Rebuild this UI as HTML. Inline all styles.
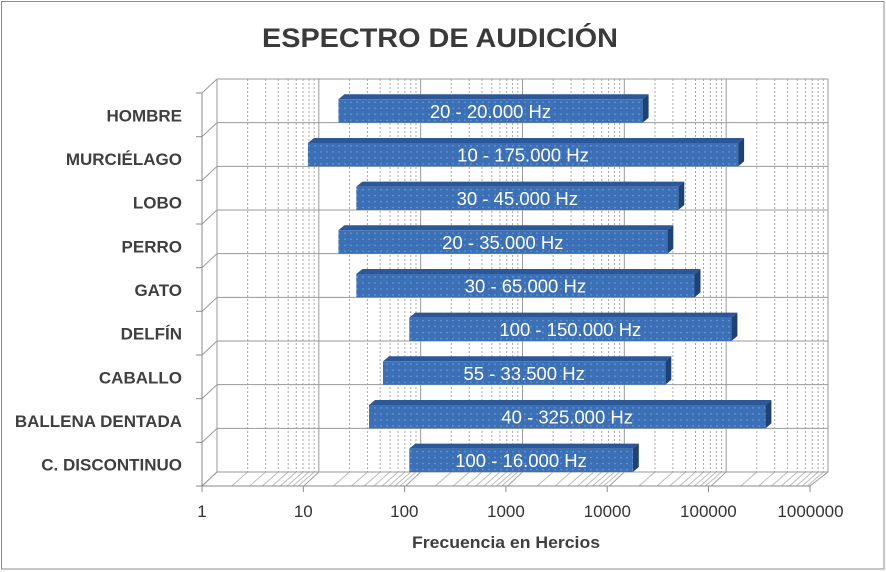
<!DOCTYPE html>
<html><head><meta charset="utf-8"><style>
html,body{margin:0;padding:0;background:#fff;}
svg{display:block;}
</style></head><body>
<svg width="886" height="572" viewBox="0 0 886 572" xmlns="http://www.w3.org/2000/svg">
<defs>
<pattern id="dots" width="6" height="6" patternUnits="userSpaceOnUse">
<rect width="6" height="6" fill="#3b70b6"/>
<circle cx="3" cy="3" r="0.7" fill="#7fa6d8"/>
</pattern>
<g id="dec">
<g stroke="#a8a8a8" stroke-width="1" stroke-dasharray="2,2" fill="none">
<line x1="30.65" y1="79" x2="30.65" y2="472"/>
<line x1="48.59" y1="79" x2="48.59" y2="472"/>
<line x1="61.31" y1="79" x2="61.31" y2="472"/>
<line x1="71.18" y1="79" x2="71.18" y2="472"/>
<line x1="79.24" y1="79" x2="79.24" y2="472"/>
<line x1="86.06" y1="79" x2="86.06" y2="472"/>
<line x1="91.96" y1="79" x2="91.96" y2="472"/>
<line x1="97.17" y1="79" x2="97.17" y2="472"/>
</g>
<g stroke="#bcbcbc" stroke-width="1" fill="none">
<line x1="30.65" y1="472" x2="14.65" y2="486"/>
<line x1="48.59" y1="472" x2="32.59" y2="486"/>
<line x1="61.31" y1="472" x2="45.31" y2="486"/>
<line x1="71.18" y1="472" x2="55.18" y2="486"/>
<line x1="79.24" y1="472" x2="63.24" y2="486"/>
<line x1="86.06" y1="472" x2="70.06" y2="486"/>
<line x1="91.96" y1="472" x2="75.96" y2="486"/>
<line x1="97.17" y1="472" x2="81.17" y2="486"/>
</g>
<line x1="0" y1="79" x2="0" y2="472" stroke="#9a9a9a" stroke-width="1"/>
<line x1="0" y1="472" x2="-15" y2="486" stroke="#a0a0a0" stroke-width="1"/>
</g>
</defs>

<rect x="0" y="0" width="886" height="572" fill="#fff"/>
<rect x="1.5" y="1.5" width="882.5" height="567.5" fill="none" stroke="#8c8c8c" stroke-width="1"/>

<text x="440" y="47" text-anchor="middle" font-family="Liberation Sans, sans-serif" font-weight="bold" font-size="27" fill="#3a3a3a" textLength="356" lengthAdjust="spacingAndGlyphs">ESPECTRO DE AUDICIÓN</text>

<use href="#dec" x="217" y="0"/>
<use href="#dec" x="318.83" y="0"/>
<use href="#dec" x="420.66" y="0"/>
<use href="#dec" x="522.49" y="0"/>
<use href="#dec" x="624.32" y="0"/>
<use href="#dec" x="726.15" y="0"/>
<line x1="828" y1="79" x2="828" y2="472" stroke="#9a9a9a" stroke-width="1"/>

<g stroke="#9a9a9a" stroke-width="1" fill="none">
<line x1="217" y1="79" x2="828" y2="79"/>
<line x1="217" y1="122.67" x2="828" y2="122.67"/>
<line x1="217" y1="166.33" x2="828" y2="166.33"/>
<line x1="217" y1="210" x2="828" y2="210"/>
<line x1="217" y1="253.67" x2="828" y2="253.67"/>
<line x1="217" y1="297.33" x2="828" y2="297.33"/>
<line x1="217" y1="341" x2="828" y2="341"/>
<line x1="217" y1="384.67" x2="828" y2="384.67"/>
<line x1="217" y1="428.33" x2="828" y2="428.33"/>
<line x1="217" y1="472" x2="828" y2="472"/>
<line x1="202" y1="93" x2="217" y2="79"/>
<line x1="202" y1="136.67" x2="217" y2="122.67"/>
<line x1="202" y1="180.33" x2="217" y2="166.33"/>
<line x1="202" y1="224" x2="217" y2="210"/>
<line x1="202" y1="267.67" x2="217" y2="253.67"/>
<line x1="202" y1="311.33" x2="217" y2="297.33"/>
<line x1="202" y1="355" x2="217" y2="341"/>
<line x1="202" y1="398.67" x2="217" y2="384.67"/>
<line x1="202" y1="442.33" x2="217" y2="428.33"/>
<line x1="202" y1="486" x2="217" y2="472"/>
<line x1="828" y1="472" x2="810" y2="486"/>
</g>

<g stroke="#8a8a8a" stroke-width="1" fill="none">
<line x1="202" y1="93" x2="202" y2="486"/>
<line x1="202" y1="486" x2="811" y2="486"/>
<line x1="196" y1="93" x2="202" y2="93"/>
<line x1="196" y1="136.67" x2="202" y2="136.67"/>
<line x1="196" y1="180.33" x2="202" y2="180.33"/>
<line x1="196" y1="224" x2="202" y2="224"/>
<line x1="196" y1="267.67" x2="202" y2="267.67"/>
<line x1="196" y1="311.33" x2="202" y2="311.33"/>
<line x1="196" y1="355" x2="202" y2="355"/>
<line x1="196" y1="398.67" x2="202" y2="398.67"/>
<line x1="196" y1="442.33" x2="202" y2="442.33"/>
<line x1="196" y1="486" x2="202" y2="486"/>
<line x1="202" y1="486" x2="202" y2="492"/>
<line x1="303.3" y1="486" x2="303.3" y2="492"/>
<line x1="404.6" y1="486" x2="404.6" y2="492"/>
<line x1="505.9" y1="486" x2="505.9" y2="492"/>
<line x1="607.2" y1="486" x2="607.2" y2="492"/>
<line x1="708.5" y1="486" x2="708.5" y2="492"/>
<line x1="810" y1="486" x2="810" y2="492"/>
</g>

<g>
<g transform="translate(0,99.3)">
<polygon points="338.4,0 344.4,-5 648.6,-5 642.6,0" fill="#2c5898"/>
<polygon points="642.6,0 648.6,-5 648.6,18.4 642.6,23.4" fill="#1f4275"/>
<rect x="338.4" y="0" width="304.2" height="23.4" fill="url(#dots)"/>
</g>
<g transform="translate(0,142.97)">
<polygon points="307.9,0 313.9,-5 744.1,-5 738.1,0" fill="#2c5898"/>
<polygon points="738.1,0 744.1,-5 744.1,18.4 738.1,23.4" fill="#1f4275"/>
<rect x="307.9" y="0" width="430.2" height="23.4" fill="url(#dots)"/>
</g>
<g transform="translate(0,186.63)">
<polygon points="356.3,0 362.3,-5 684.3,-5 678.3,0" fill="#2c5898"/>
<polygon points="678.3,0 684.3,-5 684.3,18.4 678.3,23.4" fill="#1f4275"/>
<rect x="356.3" y="0" width="322" height="23.4" fill="url(#dots)"/>
</g>
<g transform="translate(0,230.3)">
<polygon points="338.4,0 344.4,-5 673.3,-5 667.3,0" fill="#2c5898"/>
<polygon points="667.3,0 673.3,-5 673.3,18.4 667.3,23.4" fill="#1f4275"/>
<rect x="338.4" y="0" width="328.9" height="23.4" fill="url(#dots)"/>
</g>
<g transform="translate(0,273.97)">
<polygon points="356.3,0 362.3,-5 700.5,-5 694.5,0" fill="#2c5898"/>
<polygon points="694.5,0 700.5,-5 700.5,18.4 694.5,23.4" fill="#1f4275"/>
<rect x="356.3" y="0" width="338.2" height="23.4" fill="url(#dots)"/>
</g>
<g transform="translate(0,317.63)">
<polygon points="409.3,0 415.3,-5 737.4,-5 731.4,0" fill="#2c5898"/>
<polygon points="731.4,0 737.4,-5 737.4,18.4 731.4,23.4" fill="#1f4275"/>
<rect x="409.3" y="0" width="322.1" height="23.4" fill="url(#dots)"/>
</g>
<g transform="translate(0,361.3)">
<polygon points="383,0 389,-5 671.3,-5 665.3,0" fill="#2c5898"/>
<polygon points="665.3,0 671.3,-5 671.3,18.4 665.3,23.4" fill="#1f4275"/>
<rect x="383" y="0" width="282.3" height="23.4" fill="url(#dots)"/>
</g>
<g transform="translate(0,404.97)">
<polygon points="369,0 375,-5 771.4,-5 765.4,0" fill="#2c5898"/>
<polygon points="765.4,0 771.4,-5 771.4,18.4 765.4,23.4" fill="#1f4275"/>
<rect x="369" y="0" width="396.4" height="23.4" fill="url(#dots)"/>
</g>
<g transform="translate(0,448.63)">
<polygon points="409.3,0 415.3,-5 638.8,-5 632.8,0" fill="#2c5898"/>
<polygon points="632.8,0 638.8,-5 638.8,18.4 632.8,23.4" fill="#1f4275"/>
<rect x="409.3" y="0" width="223.5" height="23.4" fill="url(#dots)"/>
</g>
</g>

<g font-family="Liberation Sans, sans-serif" font-size="18.5" fill="#ffffff" text-anchor="middle">
<text x="490.5" y="117.8">20 - 20.000 Hz</text>
<text x="523" y="161.5">10 - 175.000 Hz</text>
<text x="517.3" y="205.1">30 - 45.000 Hz</text>
<text x="502.85" y="248.8">20 - 35.000 Hz</text>
<text x="525.4" y="292.5">30 - 65.000 Hz</text>
<text x="570.35" y="336.1">100 - 150.000 Hz</text>
<text x="524.15" y="379.8">55 - 33.500 Hz</text>
<text x="567.2" y="423.5">40 - 325.000 Hz</text>
<text x="521.05" y="467.1">100 - 16.000 Hz</text>
</g>

<g font-family="Liberation Sans, sans-serif" font-weight="bold" font-size="17" fill="#3f3f3f" text-anchor="end">
<text x="182" y="121.3">HOMBRE</text>
<text x="182" y="165">MURCIÉLAGO</text>
<text x="182" y="208.6">LOBO</text>
<text x="182" y="252.3">PERRO</text>
<text x="182" y="296">GATO</text>
<text x="182" y="339.6">DELFÍN</text>
<text x="182" y="383.3">CABALLO</text>
<text x="182" y="427">BALLENA DENTADA</text>
<text x="182" y="470.6">C. DISCONTINUO</text>
</g>

<g font-family="Liberation Sans, sans-serif" font-size="17" fill="#333333" text-anchor="middle">
<text x="202" y="517">1</text>
<text x="303.3" y="517">10</text>
<text x="404.3" y="517">100</text>
<text x="505.9" y="517">1000</text>
<text x="607.3" y="517">10000</text>
<text x="708.4" y="517">100000</text>
<text x="810.5" y="517">1000000</text>
</g>

<text x="506" y="548" text-anchor="middle" font-family="Liberation Sans, sans-serif" font-weight="bold" font-size="16.5" fill="#3f3f3f" textLength="188" lengthAdjust="spacingAndGlyphs">Frecuencia en Hercios</text>
</svg>
</body></html>
